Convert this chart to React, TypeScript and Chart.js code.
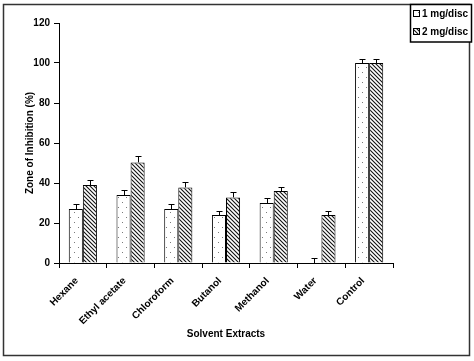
import React, { useEffect, useRef } from "react";
import { Chart, registerables } from "chart.js";

Chart.register(...registerables);

const categories = ["Hexane", "Ethyl acetate", "Chloroform", "Butanol", "Methanol", "Water", "Control"];
const seriesLabels = ["1 mg/disc", "2 mg/disc"];
const dose1Values = [27, 34, 27, 24, 30, 0, 100];
const dose2Values = [39, 50.3, 37.8, 32.8, 36, 24, 100];
const dose1Errors = [2.7, 2.5, 2.5, 2.2, 2.3, 2.7, 2.2];
const dose2Errors = [2.5, 3.2, 2.9, 2.7, 2.2, 2.2, 2.2];
const yTickMax = 120;
const yTickStep = 20;
const xTitle = "Solvent Extracts";
const yTitle = "Zone of Inhibition (%)";

const FONT = "'Liberation Sans', Arial, sans-serif";

function makeDotPattern(ctx: CanvasRenderingContext2D) {
  const c = document.createElement("canvas");
  c.width = 8;
  c.height = 10;
  const g = c.getContext("2d")!;
  g.fillStyle = "#ffffff";
  g.fillRect(0, 0, 8, 10);
  g.fillStyle = "#7a7a7a";
  g.fillRect(2, 2, 1, 1);
  g.fillRect(6, 7, 1, 1);
  return ctx.createPattern(c, "repeat")!;
}

function makeHatchPattern(ctx: CanvasRenderingContext2D) {
  const s = 4;
  const c = document.createElement("canvas");
  c.width = s;
  c.height = s;
  const g = c.getContext("2d")!;
  g.fillStyle = "#ffffff";
  g.fillRect(0, 0, s, s);
  g.strokeStyle = "#111111";
  g.lineWidth = 1.1;
  g.beginPath();
  g.moveTo(-1, -1);
  g.lineTo(s + 1, s + 1);
  g.moveTo(s - 1, -1);
  g.lineTo(s + 1, 1);
  g.moveTo(-1, s - 1);
  g.lineTo(1, s + 1);
  g.stroke();
  return ctx.createPattern(c, "repeat")!;
}

export default function App() {
  const canvasRef = useRef<HTMLCanvasElement | null>(null);

  useEffect(() => {
    const canvas = canvasRef.current;
    if (!canvas) return;
    const ctx = canvas.getContext("2d")!;
    const dotPat = makeDotPattern(ctx);
    const hatchPat = makeHatchPattern(ctx);
    const errors = [dose1Errors, dose2Errors];
    const patterns = [dotPat, hatchPat];

    const framePlugin = {
      id: "frame",
      beforeDraw(chart: any) {
        const c = chart.ctx;
        c.save();
        c.fillStyle = "#ffffff";
        c.fillRect(0, 0, chart.width, chart.height);
        c.restore();
      },
      afterDraw(chart: any) {
        const c = chart.ctx;
        c.save();
        c.strokeStyle = "#333333";
        c.lineWidth = 1.5;
        c.strokeRect(3.5, 4.5, 466, 351);
        // legend
        const lx = 410.5, ly = 4.5, lw = 61, lh = 37.5;
        c.fillStyle = "#ffffff";
        c.fillRect(lx, ly, lw, lh);
        c.strokeStyle = "#000000";
        c.lineWidth = 1.5;
        c.strokeRect(lx, ly, lw, lh);
        c.font = `bold 10px ${FONT}`;
        c.textBaseline = "middle";
        c.textAlign = "left";
        const rows = [14, 32];
        chart.data.datasets.forEach((ds: any, i: number) => {
          const y = rows[i];
          c.fillStyle = patterns[i];
          c.fillRect(413.5, y - 3.5, 6, 6);
          c.strokeStyle = "#000000";
          c.lineWidth = 1;
          c.strokeRect(413.5, y - 3.5, 6, 6);
          c.fillStyle = "#000000";
          c.fillText(ds.label, 422, y + 0.5);
        });
        c.restore();
      },
    };

    const errorPlugin = {
      id: "errbars",
      afterDatasetsDraw(chart: any) {
        const c = chart.ctx;
        const yScale = chart.scales.y;
        c.save();
        c.strokeStyle = "#000000";
        c.lineWidth = 1;
        chart.data.datasets.forEach((ds: any, di: number) => {
          const meta = chart.getDatasetMeta(di);
          meta.data.forEach((el: any, i: number) => {
            const v = ds.data[i];
            const e = errors[di][i];
            const x = Math.round(el.x) + 0.5;
            const yTop = Math.round(yScale.getPixelForValue(v + e)) + 0.5;
            const yBar = yScale.getPixelForValue(v);
            c.beginPath();
            c.moveTo(x, yBar);
            c.lineTo(x, yTop);
            c.moveTo(x - 3, yTop);
            c.lineTo(x + 3, yTop);
            c.stroke();
          });
        });
        c.restore();
      },
    };

    const chart = new Chart(canvas, {
      type: "bar",
      data: {
        labels: categories,
        datasets: [
          {
            label: seriesLabels[0],
            data: dose1Values,
            backgroundColor: dotPat as any,
            borderColor: "#000000",
            borderWidth: 1,
          },
          {
            label: seriesLabels[1],
            data: dose2Values,
            backgroundColor: hatchPat as any,
            borderColor: "#000000",
            borderWidth: 1,
          },
        ],
      },
      options: {
        responsive: false,
        animation: false,
        devicePixelRatio: 1,
        layout: { padding: { left: 24, top: 23, right: 81, bottom: 21 } },
        datasets: {
          bar: { categoryPercentage: 0.59, barPercentage: 1 },
        },
        plugins: {
          legend: { display: false },
          tooltip: { enabled: false },
        },
        scales: {
          x: {
            grid: {
              drawOnChartArea: false,
              drawTicks: true,
              tickLength: 5,
              color: "#000000",
              offset: true,
            },
            border: { display: true, color: "#000000", width: 1 },
            ticks: {
              color: "#000000",
              font: { family: FONT, size: 10, weight: "bold" },
              minRotation: 45,
              maxRotation: 45,
              autoSkip: false,
              padding: 7,
              labelOffset: -6,
            },
            title: {
              display: true,
              text: xTitle,
              color: "#000000",
              font: { family: FONT, size: 10, weight: "bold" },
              padding: { top: 0, bottom: 0 },
            },
            afterFit(scale: any) {
              scale.height = 77;
            },
          },
          y: {
            min: 0,
            max: yTickMax,
            grid: {
              drawOnChartArea: false,
              drawTicks: true,
              tickLength: 5,
              color: "#000000",
            },
            border: { display: true, color: "#000000", width: 1 },
            ticks: {
              stepSize: yTickStep,
              color: "#000000",
              font: { family: FONT, size: 10, weight: "bold" },
              padding: 4,
            },
            title: {
              display: true,
              text: yTitle,
              color: "#000000",
              font: { family: FONT, size: 10, weight: "bold" },
              padding: { top: 0, bottom: 0 },
            },
            afterFit(scale: any) {
              scale.width = 35;
            },
          },
        },
      },
      plugins: [framePlugin, errorPlugin],
    });

    return () => chart.destroy();
  }, []);

  return (
    <div style={{ position: "absolute", left: 0, top: 0, width: 474, height: 361, background: "#fff" }}>
      <canvas ref={canvasRef} width={474} height={361} style={{ display: "block", width: 474, height: 361 }} />
    </div>
  );
}
